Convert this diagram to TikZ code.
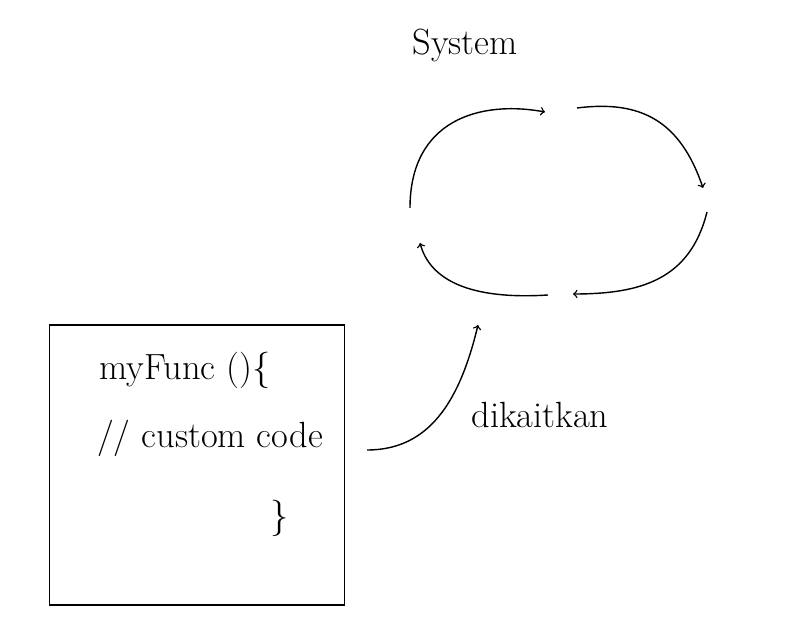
\documentclass[tikz,border=0pt]{standalone}
\usetikzlibrary{positioning}
\tikzset{
    sketch/.style={draw=black,line width=0.8pt},
    loop/.style={->,line width=0.8pt},
    hand/.style={font=\huge},
}
\begin{document}
\begin{tikzpicture}[x=0.02cm,y=-0.02cm]
   \useasboundingbox (0,0) rectangle (788,644);
   %system
   \node[hand] (sys) at (465,45) {System};
   \coordinate (a1) at (410,208);
   \coordinate (a2) at (545,112);
   \coordinate (b1) at (577,108);
   \coordinate (b2) at (703,188);
   \coordinate (c1) at (707,212);
   \coordinate (c2) at (573,294);
   \coordinate (d1) at (548,295);
   \coordinate (d2) at (420,243);
   \draw[loop] (a1) .. controls (410,120) and (480,100) .. (a2);
   \draw[loop] (b1) .. controls (640,100) and (680,120) .. (b2);
   \draw[loop] (c1) .. controls (690,280) and (640,294) .. (c2);
   \draw[loop] (d1) .. controls (470,300) and (430,280) .. (d2);
   %box
   \node[sketch,minimum width=5.9cm,minimum height=5.6cm] (box) at (197,465) {};
   \node[hand] (func) at (185,370) {myFunc (){\{}};
   \node[hand] (code) at (210,438) {// custom code};
   \node[hand] (close) at (280,518) {\}};
   %link
   \coordinate (l1) at (367,450);
   \coordinate (l2) at (478,325);
   \draw[loop] (l1) .. controls (430,450) and (460,400) .. (l2);
   \node[hand] (link) at (540,415) {dikaitkan};
\end{tikzpicture}
\end{document}
